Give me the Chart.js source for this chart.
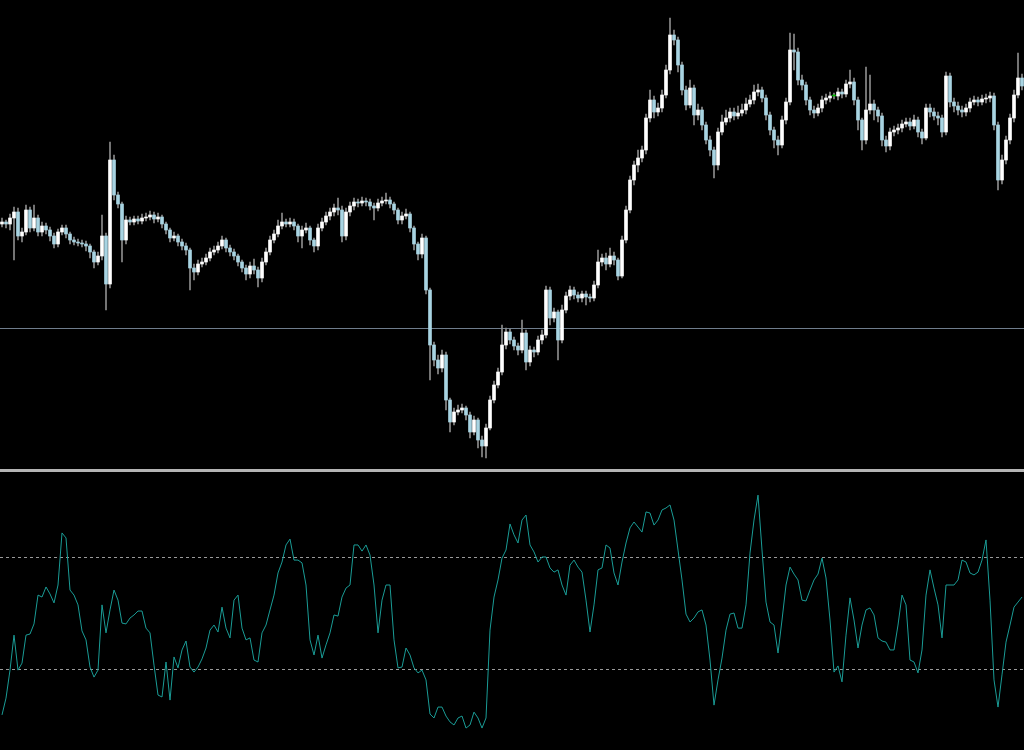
<!DOCTYPE html>
<html>
<head>
<meta charset="utf-8">
<style>
html,body{margin:0;padding:0;background:#000;width:1024px;height:750px;overflow:hidden}
#top{position:absolute;left:0;top:0;width:1024px;height:469px}
#sep{position:absolute;left:0;top:469px;width:1024px;height:3px;background:#b4b4b4}
#bot{position:absolute;left:0;top:472px;width:1024px;height:278px}
</style>
<script src="https://cdn.jsdelivr.net/npm/chart.js@4.4.1/dist/chart.umd.min.js"></script>
</head>
<body>
<canvas id="top" width="1024" height="469"></canvas>
<div id="sep"></div>
<canvas id="bot" width="1024" height="278"></canvas>
<script>
// ---- price data (one candle per bar) ----
const firstOpen = 246;
const closes = [248,246,252,258,234,238,260,242,252,238,
244,240,234,226,238,242,236,230,228,227,
226,224,218,208,214,234,186,310,275,266,
230,250,248,251,249,252,253,255,251,253,
246,240,232,234,228,224,220,202,198,206,
208,212,218,220,224,230,222,218,214,208,
202,196,204,200,192,208,218,230,236,244,
248,246,248,244,234,240,242,230,224,242,
248,254,258,262,260,234,258,264,268,267,
269,268,264,262,267,269,270,266,260,250,
254,256,242,226,216,232,180,125,110,102,
115,70,48,58,60,62,55,38,50,30,
24,42,70,85,98,125,138,130,124,120,
137,108,120,118,130,135,180,152,158,130,
160,174,180,175,172,176,173,172,185,208,
212,206,214,210,194,230,260,290,305,312,
320,352,370,358,362,375,400,435,430,405,
380,365,382,355,360,345,330,320,305,338,
348,352,358,354,357,360,366,370,378,380,
372,355,340,330,325,350,368,420,418,390,
385,370,360,357,362,370,372,374,374,378,
376,386,388,370,350,330,360,366,360,354,
330,324,338,340,342,346,348,344,350,338,
332,362,358,354,352,338,394,368,364,360,
358,362,368,370,368,371,372,374,345,290,
310,330,352,375,392,384];

const highs = [252,250,256,263,262,242,265,263,265,255,
248,247,243,237,241,245,245,238,233,231,
230,229,226,220,218,255,237,328,315,278,
268,254,253,254,254,256,257,259,258,257,
255,248,242,238,236,231,227,222,206,210,
212,216,222,224,228,234,232,225,221,216,
210,205,208,211,203,212,222,234,240,250,
257,251,252,251,246,244,247,244,232,246,
252,258,262,266,272,264,262,268,272,271,
273,272,271,267,271,273,277,273,268,262,
258,261,258,244,228,236,234,182,128,115,
120,118,72,62,65,66,64,58,54,52,
34,46,74,89,102,145,142,141,133,127,
150,140,124,123,134,140,184,183,162,160,
165,178,184,183,178,179,179,176,189,220,
216,217,222,218,212,234,264,294,309,320,
324,356,380,374,367,380,405,452,440,433,
408,384,390,385,366,363,348,334,323,342,
355,360,362,362,364,366,372,375,385,386,
383,375,358,343,334,354,372,437,436,422,
395,388,373,364,366,374,376,378,377,382,
381,390,400,392,373,352,403,395,370,363,
357,334,342,344,346,350,352,352,355,353,
341,366,366,362,358,355,398,397,372,368,
364,366,372,374,373,375,376,378,377,348,
315,334,356,380,417,396];

const lows = [243,242,240,210,230,228,235,238,239,234,
234,236,229,222,223,235,232,226,225,224,
223,219,212,202,205,210,160,182,270,262,
208,226,245,245,246,246,249,250,247,248,
242,236,228,229,224,220,215,180,190,195,
203,205,209,215,217,221,218,214,210,204,
198,190,192,196,183,188,205,215,227,233,
241,243,243,240,228,222,237,225,218,220,
239,245,250,254,255,228,230,254,260,263,
264,264,260,250,259,264,266,262,256,246,
246,251,238,220,210,212,176,90,104,96,
98,60,38,45,55,57,50,32,35,22,
13,12,40,67,82,95,121,126,120,115,
117,100,104,113,115,126,132,145,148,110,
127,157,170,171,168,168,165,168,169,182,
204,200,203,205,190,192,227,257,285,298,
308,316,348,352,354,358,372,396,425,398,
375,360,362,345,350,340,326,314,292,300,
335,345,348,350,351,354,356,363,366,374,
368,350,335,322,315,322,346,365,400,385,
380,365,355,352,354,358,366,368,371,370,
372,373,382,365,340,320,326,356,350,348,
324,318,320,334,336,338,343,340,341,333,
326,330,353,350,345,333,335,363,358,355,
353,354,358,365,364,365,367,368,340,280,
286,306,326,348,372,380];

const priceLevel = 142;

// ---- oscillator (0..100) ----
const rsi = [13.6,19.6,29.6,42.1,29.6,32.1,42.1,42.5,46.1,56.4,
55.7,59.3,56.8,53.6,60.0,78.6,76.8,58.2,56.4,52.9,
43.6,40.4,30.7,27.1,29.6,52.9,42.9,51.1,58.2,54.6,
46.4,46.1,48.2,49.3,50.7,50.7,44.6,42.9,31.4,20.7,
20.0,32.5,18.9,34.3,30.4,36.8,40.0,30.7,28.9,30.7,
33.6,37.5,43.9,45.7,43.2,52.1,44.6,41.1,54.6,56.4,
44.6,40.4,41.1,33.2,32.5,42.9,45.7,51.1,56.4,64.3,
68.2,74.3,76.4,68.9,68.9,67.9,60.0,40.4,35.0,42.1,
33.9,38.6,42.9,49.3,48.9,55.7,58.9,60.0,74.3,74.3,
72.1,74.3,70.7,60.0,42.9,54.6,60.0,60.0,40.4,30.4,
30.7,37.5,35.0,30.4,28.6,29.6,26.1,13.9,12.5,16.4,
16.4,13.2,11.1,10.0,12.5,13.2,8.9,10.0,14.6,12.5,
8.9,12.5,43.9,55.7,61.8,69.6,72.5,81.8,77.9,75.0,
83.2,85.0,74.3,71.8,68.2,70.0,70.0,66.1,64.6,65.4,
60.0,56.4,67.1,68.9,66.4,64.6,54.6,43.2,52.9,65.4,
66.1,74.3,73.2,64.3,60.0,68.2,75.0,80.4,82.5,80.7,
78.9,86.1,85.7,81.4,83.2,86.8,87.5,88.6,83.2,72.5,
61.8,49.6,46.8,48.2,50.4,51.1,45.7,33.2,17.1,26.1,
33.9,43.9,49.6,50.0,44.6,44.6,52.9,71.4,83.2,92.1,
72.5,53.9,46.8,45.7,35.7,47.5,60.0,66.4,63.9,61.8,
54.6,54.3,58.2,61.8,63.9,69.6,62.5,47.5,28.9,31.1,
25.4,42.1,55.4,47.5,37.5,45.7,51.1,51.8,49.3,41.1,
40.0,39.6,36.8,36.8,45.7,56.4,52.9,33.2,32.5,28.6,
36.8,56.4,65.4,58.9,52.9,41.1,60.0,60.0,60.0,61.8,
68.9,68.2,64.3,63.6,64.6,68.9,76.1,54.6,26.1,16.4,
27.9,39.6,45.7,52.1,53.9,55.7];

const rsiLevels = [70, 30];

// ---- build library tables ----
const bars = closes.map((_, i) => i);
const opens = closes.map((c, i) => i === 0 ? firstOpen : closes[i - 1]);
const bodies = closes.map((c, i) => [opens[i], c]);
const wicks = closes.map((c, i) => [lows[i], highs[i]]);
const bodyColors = closes.map((c, i) => c > opens[i] ? '#ffffff' : (c < opens[i] ? '#a8d4e2' : '#00c000'));

const hLinePlugin = {
  id: 'hlines',
  beforeDatasetsDraw(chart, args, opts) {
    const ctx = chart.ctx, ys = chart.scales.y, area = chart.chartArea;
    ctx.save();
    ctx.lineWidth = 1;
    ctx.strokeStyle = opts.color;
    ctx.setLineDash(opts.dash || []);
    (opts.levels || []).forEach(v => {
      const y = Math.round(ys.getPixelForValue(v)) + 0.5;
      ctx.beginPath();
      ctx.moveTo(area.left, y);
      ctx.lineTo(area.right, y);
      ctx.stroke();
    });
    ctx.restore();
  }
};

const common = {
  responsive: false,
  animation: false,
  events: [],
  layout: { padding: 0, autoPadding: false }
};

new Chart(document.getElementById('top'), {
  type: 'bar',
  data: {
    labels: bars,
    datasets: [
      { data: bodies, backgroundColor: bodyColors, barThickness: 3, grouped: false, minBarLength: 1, borderWidth: 0 },
      { data: wicks, backgroundColor: '#8c8c8c', barThickness: 1, grouped: false, borderWidth: 0 }
    ]
  },
  options: Object.assign({}, common, {
    plugins: {
      legend: { display: false }, tooltip: { enabled: false },
      hlines: { levels: [priceLevel], color: '#6f7d8c' }
    },
    scales: {
      x: { display: false, offset: true },
      y: { display: false, min: 1, max: 470 }
    }
  }),
  plugins: [hLinePlugin]
});

new Chart(document.getElementById('bot'), {
  type: 'line',
  data: {
    labels: bars,
    datasets: [
      { data: rsi, borderColor: '#1a9c96', borderWidth: 1, pointRadius: 0, tension: 0, fill: false }
    ]
  },
  options: Object.assign({}, common, {
    plugins: {
      legend: { display: false }, tooltip: { enabled: false },
      hlines: { levels: rsiLevels, color: '#9a9a9a', dash: [3, 3] }
    },
    scales: {
      x: { display: false, offset: true },
      y: { display: false, min: 1.07, max: 100.36 }
    }
  }),
  plugins: [hLinePlugin]
});
</script>
</body>
</html>
